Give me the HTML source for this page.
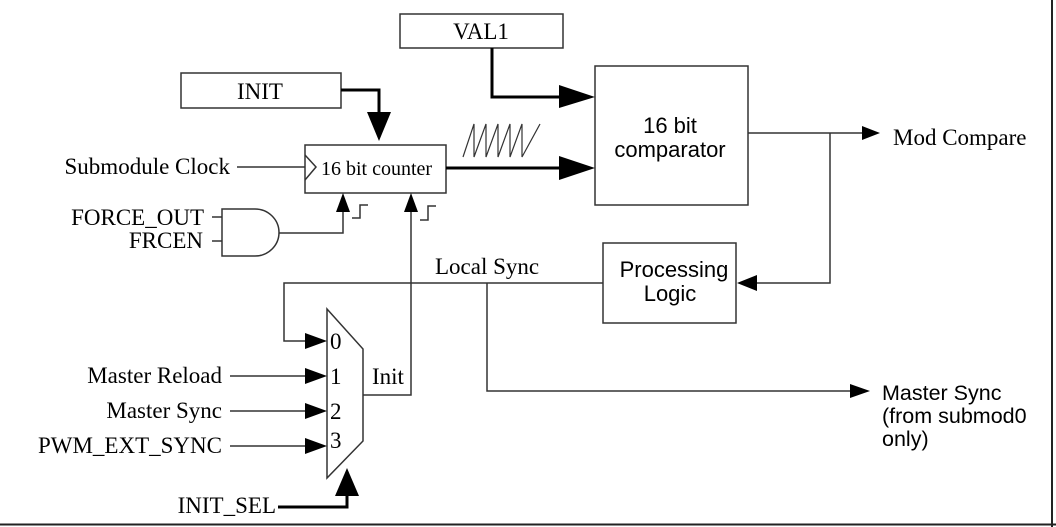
<!DOCTYPE html>
<html><head><style>
html,body{margin:0;padding:0;background:#fff;}
svg{display:block;}
.s{font-family:"Liberation Serif",serif;font-size:23px;fill:#000;}
.a{font-family:"Liberation Sans",sans-serif;font-size:22px;fill:#000;}
</style></head><body>
<svg width="1056" height="527" viewBox="0 0 1056 527" xmlns="http://www.w3.org/2000/svg">
<g fill="none" stroke="#333" stroke-width="1.5">
<rect x="400" y="14" width="163" height="34"/>
<rect x="181" y="73" width="160" height="35"/>
<rect x="595" y="66" width="153" height="139"/>
<rect x="305" y="145" width="141" height="48"/>
<rect x="603" y="243" width="133" height="80"/>
<polyline points="305,155 316,167 305,180"/>
<polygon points="327,309 363,349 363,441 327,478"/>
<path d="M222,209 L255,209 A24,23.5 0 0 1 255,256 L222,256 Z"/>
<line x1="212" y1="217" x2="222" y2="217"/>
<line x1="212" y1="241" x2="222" y2="241"/>
<polyline points="279,233 343,233 343,212"/>
<line x1="237" y1="167" x2="305" y2="167"/>
<polyline points="363,395 411,395 411,212"/>
<polyline points="352,218 360,218 360,205 368,205"/>
<polyline points="420,220 428,220 428,206 436,206"/>
<polyline points="603,283 284,283 284,341 308,341"/>
<polyline points="487,283 487,391 852,391"/>
<line x1="748" y1="133" x2="862" y2="133"/>
<polyline points="830,133 830,283 755,283"/>
<line x1="230" y1="376" x2="308" y2="376"/>
<line x1="230" y1="411" x2="308" y2="411"/>
<line x1="230" y1="446" x2="308" y2="446"/>
<polyline points="463,157 474,124 474,157 486,124 486,157 498,124 498,157 510,124 510,157 522,124 522,157 540,124" stroke-width="1.2"/>
</g>
<g fill="none" stroke="#000" stroke-width="3">
<polyline points="492,48 492,97 570,97"/>
<line x1="446" y1="168" x2="570" y2="168"/>
<polyline points="341,90 379,90 379,118"/>
<polyline points="278,507 347,507 347,490"/>
</g>
<g fill="#000">
<polygon points="595,97 559,85 559,108"/>
<polygon points="595,168 559,156 559,180"/>
<polygon points="379,141 367,112 391,112"/>
<polygon points="347,468 335,496 359,496"/>
<polygon points="343,193 336,212 350,212"/>
<polygon points="411,193 404,212 418,212"/>
<polygon points="880,133 862,126 862,140"/>
<polygon points="737,283 757,275 757,291"/>
<polygon points="870,391 850,384 850,398"/>
<polygon points="327,341 305,333 305,349"/>
<polygon points="327,376 305,368 305,384"/>
<polygon points="327,411 305,403 305,419"/>
<polygon points="327,446 305,438 305,454"/>
</g>
<line x1="0" y1="524.5" x2="1056" y2="524.5" stroke="#222" stroke-width="2"/>
<line x1="1052" y1="0" x2="1052" y2="527" stroke="#222" stroke-width="2"/>
<text class="s" x="481" y="39" text-anchor="middle">VAL1</text>
<text class="s" x="260" y="99" text-anchor="middle">INIT</text>
<text class="s" x="321" y="175" style="font-size:20px">16 bit counter</text>
<text class="a" x="670" y="133" text-anchor="middle">16 bit</text>
<text class="a" x="670" y="157" text-anchor="middle">comparator</text>
<text class="a" x="674" y="277" text-anchor="middle">Processing</text>
<text class="a" x="670" y="301" text-anchor="middle">Logic</text>
<text class="s" x="893" y="145">Mod Compare</text>
<text class="a" x="882" y="400" style="font-size:21.5px">Master Sync</text>
<text class="a" x="882" y="423" style="font-size:21.5px">(from submod0</text>
<text class="a" x="882" y="446" style="font-size:21.5px">only)</text>
<text class="s" x="435" y="274">Local Sync</text>
<text class="s" x="230" y="174" text-anchor="end">Submodule Clock</text>
<text class="s" x="204" y="225" text-anchor="end">FORCE_OUT</text>
<text class="s" x="203" y="248" text-anchor="end">FRCEN</text>
<text class="s" x="222" y="383" text-anchor="end">Master Reload</text>
<text class="s" x="222" y="418" text-anchor="end">Master Sync</text>
<text class="s" x="222" y="453" text-anchor="end">PWM_EXT_SYNC</text>
<text class="s" x="276" y="513" text-anchor="end">INIT_SEL</text>
<text class="s" x="330" y="349">0</text>
<text class="s" x="330" y="384">1</text>
<text class="s" x="330" y="419">2</text>
<text class="s" x="330" y="448">3</text>
<text class="s" x="372" y="384">Init</text>
</svg>
</body></html>
